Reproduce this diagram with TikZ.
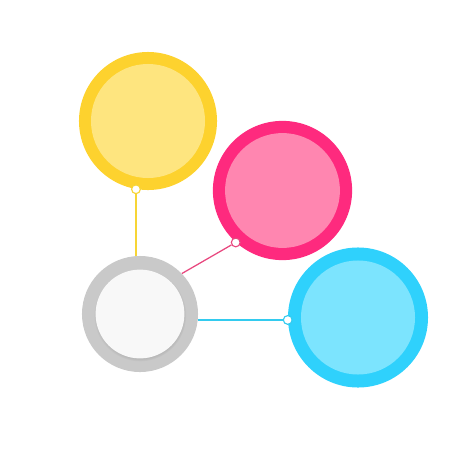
\documentclass[tikz,border=0pt]{standalone}
\usepackage{tikz}
\usetikzlibrary{shadows}

\definecolor{ylwout}{HTML}{FDD22E}
\definecolor{ylwin}{HTML}{FEE57F}
\definecolor{pnkout}{HTML}{FE2A7E}
\definecolor{pnkin}{HTML}{FF86B0}
\definecolor{bluout}{HTML}{2FD1FC}
\definecolor{bluin}{HTML}{7CE4FE}
\definecolor{gryout}{HTML}{C9C9C9}
\definecolor{gryin}{HTML}{F8F8F8}
\definecolor{ylwline}{HTML}{F7D535}
\definecolor{pnkline}{HTML}{E8487F}
\definecolor{bluline}{HTML}{33CBEF}

\begin{document}
\begin{tikzpicture}[x=0.025cm, y=-0.025cm,
	ring/.style={circle, inner sep=0pt, minimum size=#1},
	dot/.style={circle, draw=#1, fill=white, line width=0.8pt, inner sep=0pt, minimum size=0.22cm},
	link/.style={line width=0.9pt}]
		\useasboundingbox (0,0) rectangle (474,474);
		\node[ring=3.45cm, fill=ylwout] (yout) at (148,121) {};
		\node[ring=2.85cm, fill=ylwin] (yin) at (yout.center) {};
		\node[ring=3.48cm, fill=pnkout] (pout) at (282.5,190.5) {};
		\node[ring=2.87cm, fill=pnkin] (pin) at (pout.center) {};
		\node[ring=3.5cm, fill=bluout] (bout) at (358,317.5) {};
		\node[ring=2.85cm, fill=bluin] (bin) at (bout.center) {};
		\node[ring=2.9cm, fill=gryout] (gout) at (140,314) {};
		\node[ring=2.22cm, fill=gryin, circular drop shadow={shadow xshift=0pt, shadow yshift=-0.8pt, shadow scale=1.04, opacity=0.5}] (gin) at (gout.center) {};
		\node[dot=ylwline] (ydot) at (yout.260) {};
		\node[dot=pnkline] (pdot) at (pout.228) {};
		\node[dot=bluline] (bdot) at (bout.182) {};
		\draw[link, draw=ylwline] (ydot) -- (ydot |- gout.north);
		\draw[link, draw=pnkline] (pdot) -- (gout.44);
		\draw[link, draw=bluline] (bdot) -- (bdot -| gout.east);
\end{tikzpicture}
\end{document}
